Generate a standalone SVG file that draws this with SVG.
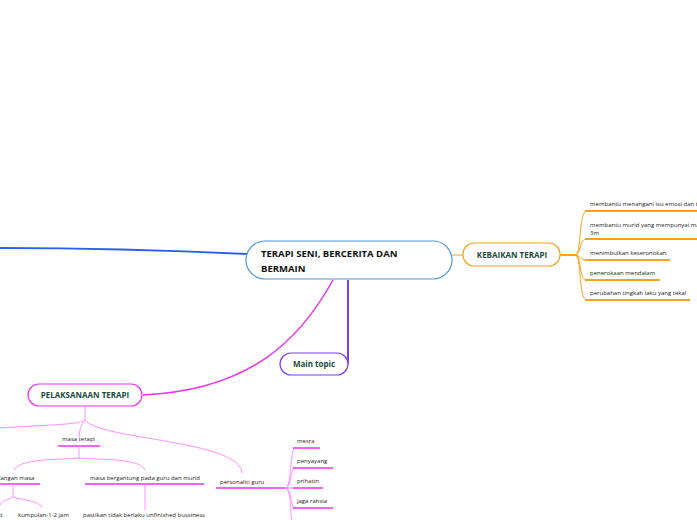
<svg xmlns="http://www.w3.org/2000/svg" width="697" height="520" viewBox="0 0 697 520">
<style>
text{font-family:"Open Sans","Noto Sans",sans-serif;fill:#222}
.s{font-size:6px}
.b{font-weight:bold;fill:#1b4a3a;font-size:8px}
.o{stroke:#f7a21b;fill:none}
.m{stroke:#f030f0;fill:none}
.ml{stroke:#ff90ff;fill:none}
</style>
<rect width="697" height="520" fill="#fff"/>
<g id="connectors">
<path d="M0 248 Q120 248 247 254" stroke="#2a5ef0" stroke-width="2" fill="none"/>
<path class="o" d="M452 255 H463" stroke="#ffc870"/>
<path class="o" d="M560 255 H575" stroke-width="2"/>
<path class="o" stroke="#ffc870" d="M575 255 C582 255 578 211 587 211 M575 255 C582 255 578 239 587 239 M575 255 C580 255 580 260 587 260 M575 255 C582 255 578 280 587 280 M575 255 C582 255 578 300 587 300"/>
<g class="o" stroke-width="2"><path d="M585 211 H697 M585 239 H697 M585 260 H670 M585 280 H660 M585 300 H690"/></g>
<path d="M348 280 V360 Q348 365 346 365" stroke="#7a3cf0" stroke-width="2" fill="none"/>
<path class="m" stroke-width="1.5" d="M333 280 C300 340 250 390 143 395"/>
<path class="ml" d="M85 406 V420 M85 420 C80 425 40 425 0 428 M85 420 C82 425 80 425 79 437 M85 420 C100 440 240 440 242 473"/>
<path class="m" stroke-width="1.5" d="M58 446 H100"/>
<path class="ml" d="M79 446 V458 C60 460 20 458 14 470 M79 458 C100 460 140 458 145 470"/>
<path class="m" stroke-width="1.5" d="M0 484 H40 M85 484 H204 M216 488 H285"/>
<path class="ml" d="M13 484 V497 C8 500 2 500 0 505 M13 497 C20 500 40 500 42 508 M145 484 V510"/>
<path class="ml" d="M285 488 C292 488 290 448 295 448 M285 488 C292 488 290 468 295 468 M285 488 H295 M285 488 C292 488 290 508 295 508 M285 488 C292 488 290 520 293 526"/>
<path class="m" stroke-width="1.5" d="M293 448 H320 M293 468 H333 M293 488 H323 M293 508 H333"/>
</g>
<g id="central"><rect x="246" y="241" width="206" height="38" rx="19" fill="#fff" stroke="#4a9ad8" stroke-width="1.2"/>
<text x="261" y="257" font-size="9.5" font-weight="bold" style="fill:#111">TERAPI SENI, BERCERITA DAN</text>
<text x="261" y="272" font-size="9.5" font-weight="bold" style="fill:#111">BERMAIN</text></g>
<g id="kebaikan"><rect x="463" y="243" width="97" height="23" rx="11" fill="#fff" stroke="#f7a21b" stroke-width="1.2"/><text x="512" y="258" class="b" text-anchor="middle">KEBAIKAN TERAPI</text></g>
<g id="k1"><text class="s" x="590" y="206">membantu menangani isu emosi dan t</text></g>
<g id="k2"><text class="s" x="590" y="227">membantu murid yang mempunyai ma</text><text class="s" x="590" y="235">3m</text></g>
<g id="k3"><text class="s" x="590" y="255">menimbulkan keseronokan</text></g>
<g id="k4"><text class="s" x="590" y="275">penerokaan mendalam</text></g>
<g id="k5"><text class="s" x="590" y="295">perubahan tingkah laku yang tekal</text></g>
<g id="main"><rect x="280" y="353" width="68" height="22" rx="11" fill="#fff" stroke="#7a3cf0" stroke-width="1.2"/><text x="314" y="367" class="b" text-anchor="middle">Main topic</text></g>
<g id="pelaksanaan"><rect x="28" y="384" width="114" height="22" rx="11" fill="#fff" stroke="#f030f0" stroke-width="1.2"/><text x="85" y="398" class="b" text-anchor="middle">PELAKSANAAN TERAPI</text></g>
<g id="masa"><text class="s" x="62" y="441">masa terapi</text></g>
<g id="langan"><text class="s" x="-1" y="480">langan masa</text></g>
<g id="bergantung"><text class="s" x="90" y="480">masa bergantung pada guru dan murid</text></g>
<g id="it"><text class="s" x="-1" y="517">it</text></g>
<g id="kumpulan"><text class="s" x="18" y="517">kumpulan-1-2 jam</text></g>
<g id="pastikan"><text class="s" x="83" y="517">pastikan tidak berlaku unfinished bussiness</text></g>
<g id="personaliti"><text class="s" x="220" y="484">personaliti guru</text></g>
<g id="p1"><text class="s" x="297" y="443">mesra</text></g>
<g id="p2"><text class="s" x="297" y="463">penyayang</text></g>
<g id="p3"><text class="s" x="297" y="483">prihatin</text></g>
<g id="p4"><text class="s" x="297" y="503">jaga rahsia</text></g>
</svg>
